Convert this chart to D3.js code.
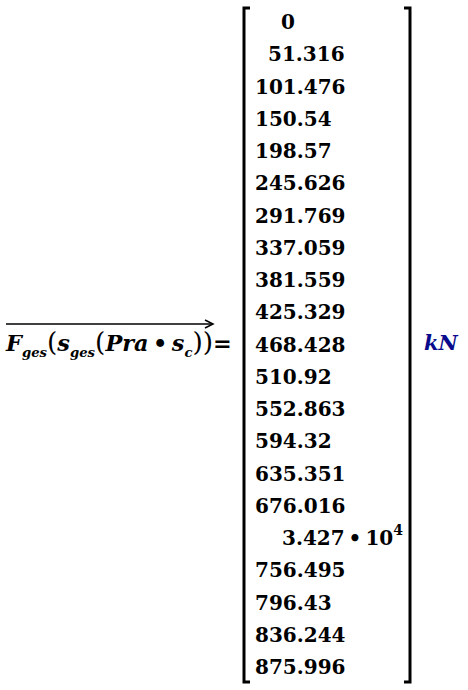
<!DOCTYPE html>
<html><head><meta charset="utf-8">
<script src="https://cdn.jsdelivr.net/npm/d3@7"></script>
<style>body{margin:0;background:#fff}text{font-family:"DejaVu Serif",serif;font-weight:bold}</style>
</head><body><svg id="c" width="468" height="690"></svg>
<script>
const values = ["0","51.316","101.476","150.54","198.57","245.626","291.769","337.059","381.559","425.329","468.428","510.92","552.863","594.32","635.351","676.016","3.427e4","756.495","796.43","836.244","875.996"];
const unitLabel = "kN";
const svg = d3.select("#c");
const y = d3.scalePoint().domain(d3.range(values.length)).range([21, 666]);
const fs = 20;
const indent = {"0": 26, "51.316": 13, "3.427e4": 27};
values.forEach((v, i) => {
  const t = svg.append("text").attr("x", 255 + (indent[v] || 0)).attr("y", y(i) + 8).attr("font-size", fs).attr("fill", "#000");
  if (v.includes("e")) {
    const [m, e] = v.split("e");
    t.append("tspan").text(m + "\u2009\u2022\u200910");
    t.append("tspan").attr("dy", -10).attr("font-size", 14).text(e);
  } else t.text(v);
  const w = t.node().getBBox().width;
  const target = {"101.476": 89}[v];
  if (target) {}
});
// brackets
const br = (x, dir) => svg.append("path").attr("d", `M${x + dir * 6},8 H${x} V682 H${x + dir * 6}`).attr("fill", "none").attr("stroke", "#000").attr("stroke-width", 3);
br(244, 1); br(410, -1);
// unit
svg.append("text").attr("x", 424).attr("y", 350).attr("font-size", 21).attr("font-style", "italic").attr("fill", "#0a0a8c").text(unitLabel);
// left expression
const g = svg.append("g");
const L = g.append("text").attr("x", 0).attr("y", 0).attr("font-size", 22).attr("font-style", "italic").attr("fill", "#000");
L.append("tspan").text("F");
L.append("tspan").attr("dy", 6).attr("font-size", 13).text("ges");
L.append("tspan").attr("dy", -6).attr("font-style", "normal").attr("font-weight", "normal").attr("font-size", 26).text("(");
L.append("tspan").text("s");
L.append("tspan").attr("dy", 6).attr("font-size", 13).text("ges");
L.append("tspan").attr("dy", -6).attr("font-style", "normal").attr("font-weight", "normal").attr("font-size", 26).text("(");
L.append("tspan").text("Pra\u2009\u2022\u2009s");
L.append("tspan").attr("dy", 6).attr("font-size", 13).text("c");
L.append("tspan").attr("dy", -6).attr("font-style", "normal").attr("font-weight", "normal").attr("font-size", 26).text("))");
L.append("tspan").attr("font-style", "normal").text("=");
const bw = L.node().getComputedTextLength();
g.attr("transform", `translate(6,351) scale(${226 / bw},1)`);
svg.append("line").attr("x1", 6).attr("x2", 212).attr("y1", 324).attr("y2", 324).attr("stroke", "#000").attr("stroke-width", 1.5);
svg.append("path").attr("d", "M205,320 L213,324 L205,328").attr("fill", "none").attr("stroke", "#000").attr("stroke-width", 1.5);
</script></body></html>
